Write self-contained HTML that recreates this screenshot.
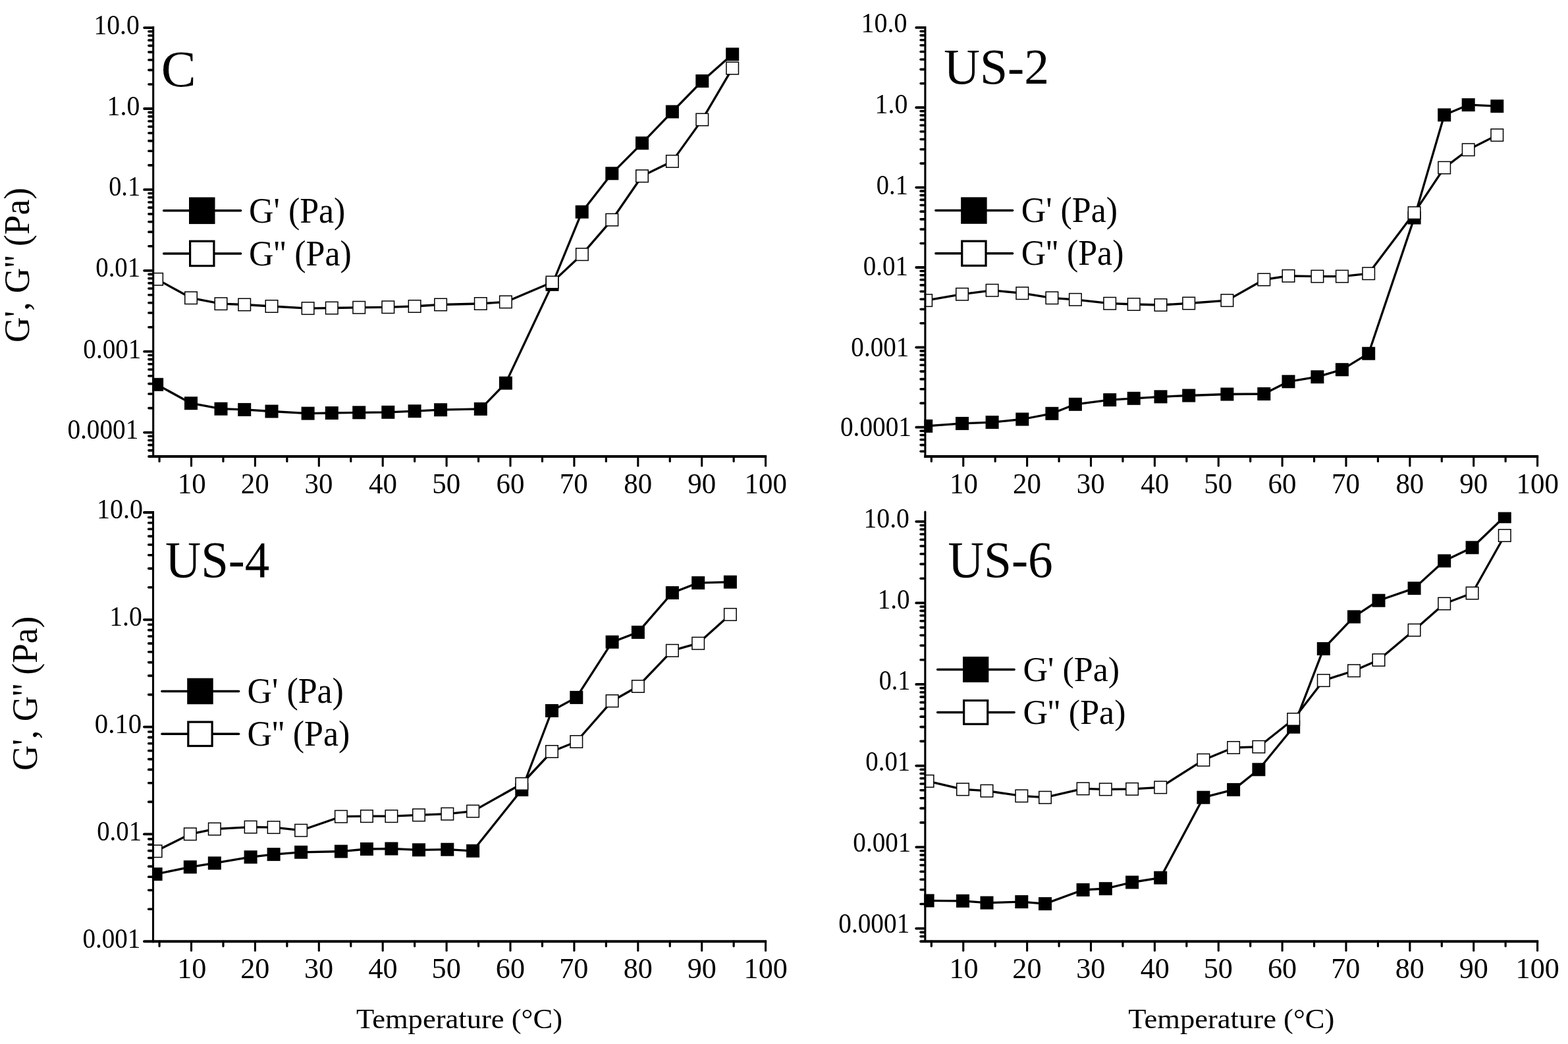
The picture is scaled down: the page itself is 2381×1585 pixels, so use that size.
<!DOCTYPE html>
<html lang="en"><head><meta charset="utf-8"><title>G', G'' vs Temperature</title>
<style>html,body{margin:0;padding:0;background:#fff}body{width:2381px;height:1585px;overflow:hidden}svg{display:block}text{font-family:"Liberation Serif",serif;fill:#000}</style>
</head><body>
<svg width="2381" height="1585" viewBox="0 0 2381 1585" font-family="Liberation Serif, serif" fill="#000" stroke="none">
<rect width="2381" height="1585" fill="#fff"/>
<clipPath id="c0"><rect x="231.15" y="0" width="989.9" height="693.1"/></clipPath>
<g clip-path="url(#c0)">
<polyline points="238.1,583.8 290,612.2 335.5,620.7 371.2,621.9 412.5,624.5 467.6,627.6 503.8,627 545.2,626.3 589.3,625.8 629.6,624.2 669.1,622.2 729.8,620.9 767.9,581.6 838.5,431.9 883.7,321.7 929.3,263.3 975,217.3 1020.9,169.6 1066.3,123 1112.2,82.4" fill="none" stroke="#000" stroke-width="3.3" stroke-linejoin="round"/>
<g fill="#000">
<rect x="228.1" y="573.8" width="20" height="20"/>
<rect x="280" y="602.2" width="20" height="20"/>
<rect x="325.5" y="610.7" width="20" height="20"/>
<rect x="361.2" y="611.9" width="20" height="20"/>
<rect x="402.5" y="614.5" width="20" height="20"/>
<rect x="457.6" y="617.6" width="20" height="20"/>
<rect x="493.8" y="617" width="20" height="20"/>
<rect x="535.2" y="616.3" width="20" height="20"/>
<rect x="579.3" y="615.8" width="20" height="20"/>
<rect x="619.6" y="614.2" width="20" height="20"/>
<rect x="659.1" y="612.2" width="20" height="20"/>
<rect x="719.8" y="610.9" width="20" height="20"/>
<rect x="757.9" y="571.6" width="20" height="20"/>
<rect x="828.5" y="421.9" width="20" height="20"/>
<rect x="873.7" y="311.7" width="20" height="20"/>
<rect x="919.3" y="253.3" width="20" height="20"/>
<rect x="965" y="207.3" width="20" height="20"/>
<rect x="1010.9" y="159.6" width="20" height="20"/>
<rect x="1056.3" y="113" width="20" height="20"/>
<rect x="1102.2" y="72.4" width="20" height="20"/>
</g>
<polyline points="238.1,423.85 290,452.3 335.5,461.2 371.2,462.5 412.5,465 467.6,468.1 503.8,467.6 545.2,466.8 589.3,466.3 629.6,465 669.1,462.5 729.8,461 767.9,458.4 838.5,428.6 883.9,386.2 929.3,333.7 975,267.3 1020.9,244.9 1066.3,181.6 1112.2,103.6" fill="none" stroke="#000" stroke-width="3.3" stroke-linejoin="round"/>
<g fill="#fff" stroke="#000" stroke-width="1.5">
<rect x="228.85" y="414.6" width="18.5" height="18.5"/>
<rect x="280.75" y="443.05" width="18.5" height="18.5"/>
<rect x="326.25" y="451.95" width="18.5" height="18.5"/>
<rect x="361.95" y="453.25" width="18.5" height="18.5"/>
<rect x="403.25" y="455.75" width="18.5" height="18.5"/>
<rect x="458.35" y="458.85" width="18.5" height="18.5"/>
<rect x="494.55" y="458.35" width="18.5" height="18.5"/>
<rect x="535.95" y="457.55" width="18.5" height="18.5"/>
<rect x="580.05" y="457.05" width="18.5" height="18.5"/>
<rect x="620.35" y="455.75" width="18.5" height="18.5"/>
<rect x="659.85" y="453.25" width="18.5" height="18.5"/>
<rect x="720.55" y="451.75" width="18.5" height="18.5"/>
<rect x="758.65" y="449.15" width="18.5" height="18.5"/>
<rect x="829.25" y="419.35" width="18.5" height="18.5"/>
<rect x="874.65" y="376.95" width="18.5" height="18.5"/>
<rect x="920.05" y="324.45" width="18.5" height="18.5"/>
<rect x="965.75" y="258.05" width="18.5" height="18.5"/>
<rect x="1011.65" y="235.65" width="18.5" height="18.5"/>
<rect x="1057.05" y="172.35" width="18.5" height="18.5"/>
<rect x="1102.95" y="94.35" width="18.5" height="18.5"/>
</g>
</g>
<g stroke="#000" fill="none">
<line x1="232.7" y1="40.1" x2="232.7" y2="695.1" stroke-width="3.1" stroke-linecap="butt"/>
<line x1="231.15" y1="693.1" x2="1164.15" y2="693.1" stroke-width="4" stroke-linecap="butt"/>
<line x1="226.1" y1="693.1" x2="230.7" y2="693.1" stroke-width="4" stroke-linecap="round"/>
<line x1="225.9" y1="683.87" x2="230.9" y2="683.87" stroke-width="3.6" stroke-linecap="round"/>
<line x1="225.9" y1="675.64" x2="230.9" y2="675.64" stroke-width="3.6" stroke-linecap="round"/>
<line x1="225.9" y1="668.51" x2="230.9" y2="668.51" stroke-width="3.6" stroke-linecap="round"/>
<line x1="225.9" y1="662.22" x2="230.9" y2="662.22" stroke-width="3.6" stroke-linecap="round"/>
<line x1="219.1" y1="656.6" x2="230.8" y2="656.6" stroke-width="3.8" stroke-linecap="round"/>
<line x1="225.9" y1="619.6" x2="230.9" y2="619.6" stroke-width="3.6" stroke-linecap="round"/>
<line x1="225.9" y1="597.96" x2="230.9" y2="597.96" stroke-width="3.6" stroke-linecap="round"/>
<line x1="225.9" y1="582.61" x2="230.9" y2="582.61" stroke-width="3.6" stroke-linecap="round"/>
<line x1="225.9" y1="570.7" x2="230.9" y2="570.7" stroke-width="3.6" stroke-linecap="round"/>
<line x1="225.9" y1="560.97" x2="230.9" y2="560.97" stroke-width="3.6" stroke-linecap="round"/>
<line x1="225.9" y1="552.74" x2="230.9" y2="552.74" stroke-width="3.6" stroke-linecap="round"/>
<line x1="225.9" y1="545.61" x2="230.9" y2="545.61" stroke-width="3.6" stroke-linecap="round"/>
<line x1="225.9" y1="539.32" x2="230.9" y2="539.32" stroke-width="3.6" stroke-linecap="round"/>
<line x1="219.1" y1="533.7" x2="230.8" y2="533.7" stroke-width="3.8" stroke-linecap="round"/>
<line x1="225.9" y1="496.7" x2="230.9" y2="496.7" stroke-width="3.6" stroke-linecap="round"/>
<line x1="225.9" y1="475.06" x2="230.9" y2="475.06" stroke-width="3.6" stroke-linecap="round"/>
<line x1="225.9" y1="459.71" x2="230.9" y2="459.71" stroke-width="3.6" stroke-linecap="round"/>
<line x1="225.9" y1="447.8" x2="230.9" y2="447.8" stroke-width="3.6" stroke-linecap="round"/>
<line x1="225.9" y1="438.07" x2="230.9" y2="438.07" stroke-width="3.6" stroke-linecap="round"/>
<line x1="225.9" y1="429.84" x2="230.9" y2="429.84" stroke-width="3.6" stroke-linecap="round"/>
<line x1="225.9" y1="422.71" x2="230.9" y2="422.71" stroke-width="3.6" stroke-linecap="round"/>
<line x1="225.9" y1="416.42" x2="230.9" y2="416.42" stroke-width="3.6" stroke-linecap="round"/>
<line x1="219.1" y1="410.8" x2="230.8" y2="410.8" stroke-width="3.8" stroke-linecap="round"/>
<line x1="225.9" y1="373.8" x2="230.9" y2="373.8" stroke-width="3.6" stroke-linecap="round"/>
<line x1="225.9" y1="352.16" x2="230.9" y2="352.16" stroke-width="3.6" stroke-linecap="round"/>
<line x1="225.9" y1="336.81" x2="230.9" y2="336.81" stroke-width="3.6" stroke-linecap="round"/>
<line x1="225.9" y1="324.9" x2="230.9" y2="324.9" stroke-width="3.6" stroke-linecap="round"/>
<line x1="225.9" y1="315.17" x2="230.9" y2="315.17" stroke-width="3.6" stroke-linecap="round"/>
<line x1="225.9" y1="306.94" x2="230.9" y2="306.94" stroke-width="3.6" stroke-linecap="round"/>
<line x1="225.9" y1="299.81" x2="230.9" y2="299.81" stroke-width="3.6" stroke-linecap="round"/>
<line x1="225.9" y1="293.52" x2="230.9" y2="293.52" stroke-width="3.6" stroke-linecap="round"/>
<line x1="219.1" y1="287.9" x2="230.8" y2="287.9" stroke-width="3.8" stroke-linecap="round"/>
<line x1="225.9" y1="250.9" x2="230.9" y2="250.9" stroke-width="3.6" stroke-linecap="round"/>
<line x1="225.9" y1="229.26" x2="230.9" y2="229.26" stroke-width="3.6" stroke-linecap="round"/>
<line x1="225.9" y1="213.91" x2="230.9" y2="213.91" stroke-width="3.6" stroke-linecap="round"/>
<line x1="225.9" y1="202" x2="230.9" y2="202" stroke-width="3.6" stroke-linecap="round"/>
<line x1="225.9" y1="192.27" x2="230.9" y2="192.27" stroke-width="3.6" stroke-linecap="round"/>
<line x1="225.9" y1="184.04" x2="230.9" y2="184.04" stroke-width="3.6" stroke-linecap="round"/>
<line x1="225.9" y1="176.91" x2="230.9" y2="176.91" stroke-width="3.6" stroke-linecap="round"/>
<line x1="225.9" y1="170.62" x2="230.9" y2="170.62" stroke-width="3.6" stroke-linecap="round"/>
<line x1="219.1" y1="165" x2="230.8" y2="165" stroke-width="3.8" stroke-linecap="round"/>
<line x1="225.9" y1="128" x2="230.9" y2="128" stroke-width="3.6" stroke-linecap="round"/>
<line x1="225.9" y1="106.36" x2="230.9" y2="106.36" stroke-width="3.6" stroke-linecap="round"/>
<line x1="225.9" y1="91.01" x2="230.9" y2="91.01" stroke-width="3.6" stroke-linecap="round"/>
<line x1="225.9" y1="79.1" x2="230.9" y2="79.1" stroke-width="3.6" stroke-linecap="round"/>
<line x1="225.9" y1="69.37" x2="230.9" y2="69.37" stroke-width="3.6" stroke-linecap="round"/>
<line x1="225.9" y1="61.14" x2="230.9" y2="61.14" stroke-width="3.6" stroke-linecap="round"/>
<line x1="225.9" y1="54.01" x2="230.9" y2="54.01" stroke-width="3.6" stroke-linecap="round"/>
<line x1="225.9" y1="47.72" x2="230.9" y2="47.72" stroke-width="3.6" stroke-linecap="round"/>
<line x1="219.1" y1="42.1" x2="230.8" y2="42.1" stroke-width="3.8" stroke-linecap="round"/>
<line x1="242.05" y1="693.1" x2="242.05" y2="700.5" stroke-width="3.2" stroke-linecap="round"/>
<line x1="290.5" y1="693.1" x2="290.5" y2="707.15" stroke-width="3.1" stroke-linecap="round"/>
<line x1="338.95" y1="693.1" x2="338.95" y2="700.5" stroke-width="3.2" stroke-linecap="round"/>
<line x1="387.4" y1="693.1" x2="387.4" y2="707.15" stroke-width="3.1" stroke-linecap="round"/>
<line x1="435.85" y1="693.1" x2="435.85" y2="700.5" stroke-width="3.2" stroke-linecap="round"/>
<line x1="484.3" y1="693.1" x2="484.3" y2="707.15" stroke-width="3.1" stroke-linecap="round"/>
<line x1="532.75" y1="693.1" x2="532.75" y2="700.5" stroke-width="3.2" stroke-linecap="round"/>
<line x1="581.2" y1="693.1" x2="581.2" y2="707.15" stroke-width="3.1" stroke-linecap="round"/>
<line x1="629.65" y1="693.1" x2="629.65" y2="700.5" stroke-width="3.2" stroke-linecap="round"/>
<line x1="678.1" y1="693.1" x2="678.1" y2="707.15" stroke-width="3.1" stroke-linecap="round"/>
<line x1="726.55" y1="693.1" x2="726.55" y2="700.5" stroke-width="3.2" stroke-linecap="round"/>
<line x1="775" y1="693.1" x2="775" y2="707.15" stroke-width="3.1" stroke-linecap="round"/>
<line x1="823.45" y1="693.1" x2="823.45" y2="700.5" stroke-width="3.2" stroke-linecap="round"/>
<line x1="871.9" y1="693.1" x2="871.9" y2="707.15" stroke-width="3.1" stroke-linecap="round"/>
<line x1="920.35" y1="693.1" x2="920.35" y2="700.5" stroke-width="3.2" stroke-linecap="round"/>
<line x1="968.8" y1="693.1" x2="968.8" y2="707.15" stroke-width="3.1" stroke-linecap="round"/>
<line x1="1017.25" y1="693.1" x2="1017.25" y2="700.5" stroke-width="3.2" stroke-linecap="round"/>
<line x1="1065.7" y1="693.1" x2="1065.7" y2="707.15" stroke-width="3.1" stroke-linecap="round"/>
<line x1="1114.15" y1="693.1" x2="1114.15" y2="700.5" stroke-width="3.2" stroke-linecap="round"/>
<line x1="1162.6" y1="693.1" x2="1162.6" y2="707.15" stroke-width="3.1" stroke-linecap="round"/>
</g>
<line stroke="#000" x1="248.6" y1="319.8" x2="365.6" y2="319.8" stroke-width="3.5" stroke-linecap="round"/>
<rect x="287" y="299.5" width="39.5" height="40.6" fill="#000"/>
<text transform="matrix(0.9570 0 0 1 378.02 337.9)" font-size="54.3">G' (Pa)</text>
<line stroke="#000" x1="248.6" y1="384.9" x2="365.6" y2="384.9" stroke-width="3.5" stroke-linecap="round"/>
<rect x="288.6" y="366.2" width="36.3" height="37.4" fill="#fff" stroke="#000" stroke-width="3.2"/>
<text transform="matrix(0.9570 0 0 1 378.02 403)" font-size="54.3">G'' (Pa)</text>
<text transform="matrix(1.0100 0 0 1 244.83 131.11)" font-size="78.51">C</text>
<text transform="matrix(0.9573 0 0 1 142.43 51.55)" font-size="41.4">10.0</text>
<text transform="matrix(0.9597 0 0 1 162.62 174.85)" font-size="41.4">1.0</text>
<text transform="matrix(0.9264 0 0 1 165.16 297.46)" font-size="41.4">0.1</text>
<text transform="matrix(0.9369 0 0 1 145.25 420.26)" font-size="41.4">0.01</text>
<text transform="matrix(0.9449 0 0 1 126.33 543.56)" font-size="41.4">0.001</text>
<text transform="matrix(0.9480 0 0 1 102.43 665.81)" font-size="41.4">0.0001</text>
<text transform="matrix(0.9850 0 0 1 269.85 749.1)" font-size="43.6">10</text>
<text transform="matrix(0.9850 0 0 1 365.77 749.1)" font-size="43.6">20</text>
<text transform="matrix(0.9850 0 0 1 462.61 749.1)" font-size="43.6">30</text>
<text transform="matrix(0.9850 0 0 1 560.1 749.1)" font-size="43.6">40</text>
<text transform="matrix(0.9850 0 0 1 656.2 749.1)" font-size="43.6">50</text>
<text transform="matrix(0.9850 0 0 1 753.42 749.1)" font-size="43.6">60</text>
<text transform="matrix(0.9850 0 0 1 849.84 749.1)" font-size="43.6">70</text>
<text transform="matrix(0.9850 0 0 1 947.33 749.1)" font-size="43.6">80</text>
<text transform="matrix(0.9850 0 0 1 1044.33 749.1)" font-size="43.6">90</text>
<text transform="matrix(0.9850 0 0 1 1130.52 749.1)" font-size="43.6">100</text>
<clipPath id="c1"><rect x="1403.35" y="0" width="989.7" height="693.1"/></clipPath>
<g clip-path="url(#c1)">
<polyline points="1406.2,646.85 1461,642.9 1506.6,641.1 1552.3,636.5 1597.4,627.8 1632.9,613.8 1685.2,607.1 1721.7,604.8 1762.5,602.3 1805.2,600.5 1863.4,598.5 1919.3,598 1956.5,579.3 2000.4,572.2 2037.9,561.2 2078.2,536.7 2147.6,330.6 2193.2,174.5 2229.7,159.2 2273.3,161.2" fill="none" stroke="#000" stroke-width="3.3" stroke-linejoin="round"/>
<g fill="#000">
<rect x="1396.2" y="636.85" width="20" height="20"/>
<rect x="1451" y="632.9" width="20" height="20"/>
<rect x="1496.6" y="631.1" width="20" height="20"/>
<rect x="1542.3" y="626.5" width="20" height="20"/>
<rect x="1587.4" y="617.8" width="20" height="20"/>
<rect x="1622.9" y="603.8" width="20" height="20"/>
<rect x="1675.2" y="597.1" width="20" height="20"/>
<rect x="1711.7" y="594.8" width="20" height="20"/>
<rect x="1752.5" y="592.3" width="20" height="20"/>
<rect x="1795.2" y="590.5" width="20" height="20"/>
<rect x="1853.4" y="588.5" width="20" height="20"/>
<rect x="1909.3" y="588" width="20" height="20"/>
<rect x="1946.5" y="569.3" width="20" height="20"/>
<rect x="1990.4" y="562.2" width="20" height="20"/>
<rect x="2027.9" y="551.2" width="20" height="20"/>
<rect x="2068.2" y="526.7" width="20" height="20"/>
<rect x="2137.6" y="320.6" width="20" height="20"/>
<rect x="2183.2" y="164.5" width="20" height="20"/>
<rect x="2219.7" y="149.2" width="20" height="20"/>
<rect x="2263.3" y="151.2" width="20" height="20"/>
</g>
<polyline points="1406.2,456.1 1461,446.7 1506.6,440.8 1552.3,445.2 1597.4,452.3 1632.9,454.8 1685.2,460.7 1721.7,462 1762.5,463 1805.2,460.5 1863.4,456.1 1919.3,424.5 1956.5,418.9 2000.4,419.6 2037.9,419.6 2078.2,415.3 2147.6,323.2 2193.2,254.6 2229.7,227.3 2273.3,205.1" fill="none" stroke="#000" stroke-width="3.3" stroke-linejoin="round"/>
<g fill="#fff" stroke="#000" stroke-width="1.5">
<rect x="1396.95" y="446.85" width="18.5" height="18.5"/>
<rect x="1451.75" y="437.45" width="18.5" height="18.5"/>
<rect x="1497.35" y="431.55" width="18.5" height="18.5"/>
<rect x="1543.05" y="435.95" width="18.5" height="18.5"/>
<rect x="1588.15" y="443.05" width="18.5" height="18.5"/>
<rect x="1623.65" y="445.55" width="18.5" height="18.5"/>
<rect x="1675.95" y="451.45" width="18.5" height="18.5"/>
<rect x="1712.45" y="452.75" width="18.5" height="18.5"/>
<rect x="1753.25" y="453.75" width="18.5" height="18.5"/>
<rect x="1795.95" y="451.25" width="18.5" height="18.5"/>
<rect x="1854.15" y="446.85" width="18.5" height="18.5"/>
<rect x="1910.05" y="415.25" width="18.5" height="18.5"/>
<rect x="1947.25" y="409.65" width="18.5" height="18.5"/>
<rect x="1991.15" y="410.35" width="18.5" height="18.5"/>
<rect x="2028.65" y="410.35" width="18.5" height="18.5"/>
<rect x="2068.95" y="406.05" width="18.5" height="18.5"/>
<rect x="2138.35" y="313.95" width="18.5" height="18.5"/>
<rect x="2183.95" y="245.35" width="18.5" height="18.5"/>
<rect x="2220.45" y="218.05" width="18.5" height="18.5"/>
<rect x="2264.05" y="195.85" width="18.5" height="18.5"/>
</g>
</g>
<g stroke="#000" fill="none">
<line x1="1404.9" y1="40" x2="1404.9" y2="695.1" stroke-width="3.1" stroke-linecap="butt"/>
<line x1="1403.35" y1="693.1" x2="2336.15" y2="693.1" stroke-width="4" stroke-linecap="butt"/>
<line x1="1398.1" y1="685.23" x2="1403.1" y2="685.23" stroke-width="3.6" stroke-linecap="round"/>
<line x1="1398.1" y1="675.62" x2="1403.1" y2="675.62" stroke-width="3.6" stroke-linecap="round"/>
<line x1="1398.1" y1="667.5" x2="1403.1" y2="667.5" stroke-width="3.6" stroke-linecap="round"/>
<line x1="1398.1" y1="660.46" x2="1403.1" y2="660.46" stroke-width="3.6" stroke-linecap="round"/>
<line x1="1398.1" y1="654.25" x2="1403.1" y2="654.25" stroke-width="3.6" stroke-linecap="round"/>
<line x1="1391.3" y1="648.7" x2="1403" y2="648.7" stroke-width="3.8" stroke-linecap="round"/>
<line x1="1398.1" y1="612.17" x2="1403.1" y2="612.17" stroke-width="3.6" stroke-linecap="round"/>
<line x1="1398.1" y1="590.8" x2="1403.1" y2="590.8" stroke-width="3.6" stroke-linecap="round"/>
<line x1="1398.1" y1="575.63" x2="1403.1" y2="575.63" stroke-width="3.6" stroke-linecap="round"/>
<line x1="1398.1" y1="563.87" x2="1403.1" y2="563.87" stroke-width="3.6" stroke-linecap="round"/>
<line x1="1398.1" y1="554.26" x2="1403.1" y2="554.26" stroke-width="3.6" stroke-linecap="round"/>
<line x1="1398.1" y1="546.14" x2="1403.1" y2="546.14" stroke-width="3.6" stroke-linecap="round"/>
<line x1="1398.1" y1="539.1" x2="1403.1" y2="539.1" stroke-width="3.6" stroke-linecap="round"/>
<line x1="1398.1" y1="532.89" x2="1403.1" y2="532.89" stroke-width="3.6" stroke-linecap="round"/>
<line x1="1391.3" y1="527.34" x2="1403" y2="527.34" stroke-width="3.8" stroke-linecap="round"/>
<line x1="1398.1" y1="490.81" x2="1403.1" y2="490.81" stroke-width="3.6" stroke-linecap="round"/>
<line x1="1398.1" y1="469.44" x2="1403.1" y2="469.44" stroke-width="3.6" stroke-linecap="round"/>
<line x1="1398.1" y1="454.27" x2="1403.1" y2="454.27" stroke-width="3.6" stroke-linecap="round"/>
<line x1="1398.1" y1="442.51" x2="1403.1" y2="442.51" stroke-width="3.6" stroke-linecap="round"/>
<line x1="1398.1" y1="432.9" x2="1403.1" y2="432.9" stroke-width="3.6" stroke-linecap="round"/>
<line x1="1398.1" y1="424.78" x2="1403.1" y2="424.78" stroke-width="3.6" stroke-linecap="round"/>
<line x1="1398.1" y1="417.74" x2="1403.1" y2="417.74" stroke-width="3.6" stroke-linecap="round"/>
<line x1="1398.1" y1="411.53" x2="1403.1" y2="411.53" stroke-width="3.6" stroke-linecap="round"/>
<line x1="1391.3" y1="405.98" x2="1403" y2="405.98" stroke-width="3.8" stroke-linecap="round"/>
<line x1="1398.1" y1="369.45" x2="1403.1" y2="369.45" stroke-width="3.6" stroke-linecap="round"/>
<line x1="1398.1" y1="348.08" x2="1403.1" y2="348.08" stroke-width="3.6" stroke-linecap="round"/>
<line x1="1398.1" y1="332.91" x2="1403.1" y2="332.91" stroke-width="3.6" stroke-linecap="round"/>
<line x1="1398.1" y1="321.15" x2="1403.1" y2="321.15" stroke-width="3.6" stroke-linecap="round"/>
<line x1="1398.1" y1="311.54" x2="1403.1" y2="311.54" stroke-width="3.6" stroke-linecap="round"/>
<line x1="1398.1" y1="303.42" x2="1403.1" y2="303.42" stroke-width="3.6" stroke-linecap="round"/>
<line x1="1398.1" y1="296.38" x2="1403.1" y2="296.38" stroke-width="3.6" stroke-linecap="round"/>
<line x1="1398.1" y1="290.17" x2="1403.1" y2="290.17" stroke-width="3.6" stroke-linecap="round"/>
<line x1="1391.3" y1="284.62" x2="1403" y2="284.62" stroke-width="3.8" stroke-linecap="round"/>
<line x1="1398.1" y1="248.09" x2="1403.1" y2="248.09" stroke-width="3.6" stroke-linecap="round"/>
<line x1="1398.1" y1="226.72" x2="1403.1" y2="226.72" stroke-width="3.6" stroke-linecap="round"/>
<line x1="1398.1" y1="211.55" x2="1403.1" y2="211.55" stroke-width="3.6" stroke-linecap="round"/>
<line x1="1398.1" y1="199.79" x2="1403.1" y2="199.79" stroke-width="3.6" stroke-linecap="round"/>
<line x1="1398.1" y1="190.18" x2="1403.1" y2="190.18" stroke-width="3.6" stroke-linecap="round"/>
<line x1="1398.1" y1="182.06" x2="1403.1" y2="182.06" stroke-width="3.6" stroke-linecap="round"/>
<line x1="1398.1" y1="175.02" x2="1403.1" y2="175.02" stroke-width="3.6" stroke-linecap="round"/>
<line x1="1398.1" y1="168.81" x2="1403.1" y2="168.81" stroke-width="3.6" stroke-linecap="round"/>
<line x1="1391.3" y1="163.26" x2="1403" y2="163.26" stroke-width="3.8" stroke-linecap="round"/>
<line x1="1398.1" y1="126.73" x2="1403.1" y2="126.73" stroke-width="3.6" stroke-linecap="round"/>
<line x1="1398.1" y1="105.36" x2="1403.1" y2="105.36" stroke-width="3.6" stroke-linecap="round"/>
<line x1="1398.1" y1="90.19" x2="1403.1" y2="90.19" stroke-width="3.6" stroke-linecap="round"/>
<line x1="1398.1" y1="78.43" x2="1403.1" y2="78.43" stroke-width="3.6" stroke-linecap="round"/>
<line x1="1398.1" y1="68.82" x2="1403.1" y2="68.82" stroke-width="3.6" stroke-linecap="round"/>
<line x1="1398.1" y1="60.7" x2="1403.1" y2="60.7" stroke-width="3.6" stroke-linecap="round"/>
<line x1="1398.1" y1="53.66" x2="1403.1" y2="53.66" stroke-width="3.6" stroke-linecap="round"/>
<line x1="1398.1" y1="47.45" x2="1403.1" y2="47.45" stroke-width="3.6" stroke-linecap="round"/>
<line x1="1391.3" y1="41.9" x2="1403" y2="41.9" stroke-width="3.8" stroke-linecap="round"/>
<line x1="1414.34" y1="693.1" x2="1414.34" y2="700.5" stroke-width="3.2" stroke-linecap="round"/>
<line x1="1462.77" y1="693.1" x2="1462.77" y2="707.15" stroke-width="3.1" stroke-linecap="round"/>
<line x1="1511.21" y1="693.1" x2="1511.21" y2="700.5" stroke-width="3.2" stroke-linecap="round"/>
<line x1="1559.64" y1="693.1" x2="1559.64" y2="707.15" stroke-width="3.1" stroke-linecap="round"/>
<line x1="1608.08" y1="693.1" x2="1608.08" y2="700.5" stroke-width="3.2" stroke-linecap="round"/>
<line x1="1656.51" y1="693.1" x2="1656.51" y2="707.15" stroke-width="3.1" stroke-linecap="round"/>
<line x1="1704.95" y1="693.1" x2="1704.95" y2="700.5" stroke-width="3.2" stroke-linecap="round"/>
<line x1="1753.38" y1="693.1" x2="1753.38" y2="707.15" stroke-width="3.1" stroke-linecap="round"/>
<line x1="1801.82" y1="693.1" x2="1801.82" y2="700.5" stroke-width="3.2" stroke-linecap="round"/>
<line x1="1850.25" y1="693.1" x2="1850.25" y2="707.15" stroke-width="3.1" stroke-linecap="round"/>
<line x1="1898.68" y1="693.1" x2="1898.68" y2="700.5" stroke-width="3.2" stroke-linecap="round"/>
<line x1="1947.12" y1="693.1" x2="1947.12" y2="707.15" stroke-width="3.1" stroke-linecap="round"/>
<line x1="1995.56" y1="693.1" x2="1995.56" y2="700.5" stroke-width="3.2" stroke-linecap="round"/>
<line x1="2043.99" y1="693.1" x2="2043.99" y2="707.15" stroke-width="3.1" stroke-linecap="round"/>
<line x1="2092.43" y1="693.1" x2="2092.43" y2="700.5" stroke-width="3.2" stroke-linecap="round"/>
<line x1="2140.86" y1="693.1" x2="2140.86" y2="707.15" stroke-width="3.1" stroke-linecap="round"/>
<line x1="2189.3" y1="693.1" x2="2189.3" y2="700.5" stroke-width="3.2" stroke-linecap="round"/>
<line x1="2237.73" y1="693.1" x2="2237.73" y2="707.15" stroke-width="3.1" stroke-linecap="round"/>
<line x1="2286.16" y1="693.1" x2="2286.16" y2="700.5" stroke-width="3.2" stroke-linecap="round"/>
<line x1="2334.6" y1="693.1" x2="2334.6" y2="707.15" stroke-width="3.1" stroke-linecap="round"/>
</g>
<line stroke="#000" x1="1420.9" y1="319.6" x2="1537.6" y2="319.6" stroke-width="3.5" stroke-linecap="round"/>
<rect x="1459.15" y="299.4" width="39.5" height="40.4" fill="#000"/>
<text transform="matrix(0.9620 0 0 1 1550.72 337)" font-size="54">G' (Pa)</text>
<line stroke="#000" x1="1420.9" y1="384.7" x2="1537.6" y2="384.7" stroke-width="3.5" stroke-linecap="round"/>
<rect x="1460.75" y="366.1" width="36.3" height="37.2" fill="#fff" stroke="#000" stroke-width="3.2"/>
<text transform="matrix(0.9620 0 0 1 1550.72 402.1)" font-size="54">G'' (Pa)</text>
<text transform="matrix(0.9966 0 0 1 1433.19 126.84)" font-size="75.99">US-2</text>
<text transform="matrix(0.9662 0 0 1 1307.6 48.75)" font-size="41.4">10.0</text>
<text transform="matrix(0.9640 0 0 1 1328.51 172.05)" font-size="41.4">1.0</text>
<text transform="matrix(0.9285 0 0 1 1330.86 294.66)" font-size="41.4">0.1</text>
<text transform="matrix(0.9428 0 0 1 1310.64 417.56)" font-size="41.4">0.01</text>
<text transform="matrix(0.9449 0 0 1 1292.33 540.86)" font-size="41.4">0.001</text>
<text transform="matrix(0.9498 0 0 1 1275.93 661.56)" font-size="41.4">0.0001</text>
<text transform="matrix(0.9850 0 0 1 1442.12 749.1)" font-size="43.6">10</text>
<text transform="matrix(0.9850 0 0 1 1538.01 749.1)" font-size="43.6">20</text>
<text transform="matrix(0.9850 0 0 1 1634.82 749.1)" font-size="43.6">30</text>
<text transform="matrix(0.9850 0 0 1 1732.28 749.1)" font-size="43.6">40</text>
<text transform="matrix(0.9850 0 0 1 1828.35 749.1)" font-size="43.6">50</text>
<text transform="matrix(0.9850 0 0 1 1925.54 749.1)" font-size="43.6">60</text>
<text transform="matrix(0.9850 0 0 1 2021.93 749.1)" font-size="43.6">70</text>
<text transform="matrix(0.9850 0 0 1 2119.39 749.1)" font-size="43.6">80</text>
<text transform="matrix(0.9850 0 0 1 2216.36 749.1)" font-size="43.6">90</text>
<text transform="matrix(0.9850 0 0 1 2302.52 749.1)" font-size="43.6">100</text>
<clipPath id="c2"><rect x="230.95" y="0" width="990.1" height="1429.2"/></clipPath>
<g clip-path="url(#c2)">
<polyline points="236.6,1327.1 288.8,1316.3 325.8,1310.4 380.6,1301.2 415.6,1297.1 457.1,1293.8 517.9,1292.6 556.9,1289 594.4,1288.5 636,1290.3 679.3,1289.7 718.1,1291.8 792.3,1199 838,1079 875.3,1058.9 929.6,974.7 968.9,959.9 1020.9,900 1060.2,884.9 1108.9,883.6" fill="none" stroke="#000" stroke-width="3.3" stroke-linejoin="round"/>
<g fill="#000">
<rect x="226.6" y="1317.1" width="20" height="20"/>
<rect x="278.8" y="1306.3" width="20" height="20"/>
<rect x="315.8" y="1300.4" width="20" height="20"/>
<rect x="370.6" y="1291.2" width="20" height="20"/>
<rect x="405.6" y="1287.1" width="20" height="20"/>
<rect x="447.1" y="1283.8" width="20" height="20"/>
<rect x="507.9" y="1282.6" width="20" height="20"/>
<rect x="546.9" y="1279" width="20" height="20"/>
<rect x="584.4" y="1278.5" width="20" height="20"/>
<rect x="626" y="1280.3" width="20" height="20"/>
<rect x="669.3" y="1279.7" width="20" height="20"/>
<rect x="708.1" y="1281.8" width="20" height="20"/>
<rect x="782.3" y="1189" width="20" height="20"/>
<rect x="828" y="1069" width="20" height="20"/>
<rect x="865.3" y="1048.9" width="20" height="20"/>
<rect x="919.6" y="964.7" width="20" height="20"/>
<rect x="958.9" y="949.9" width="20" height="20"/>
<rect x="1010.9" y="890" width="20" height="20"/>
<rect x="1050.2" y="874.9" width="20" height="20"/>
<rect x="1098.9" y="873.6" width="20" height="20"/>
</g>
<polyline points="236.6,1292.3 288.8,1266.3 325.8,1258.6 380.6,1255.6 415.6,1256.1 457.1,1260.7 517.9,1239.7 556.9,1239.2 594.4,1239.2 636,1237.4 679.3,1235.7 718.1,1231.6 792.3,1190 838,1141 875.3,1126 929.6,1064.2 968.9,1042 1020.9,987.7 1060.2,976.7 1108.9,932.9" fill="none" stroke="#000" stroke-width="3.3" stroke-linejoin="round"/>
<g fill="#fff" stroke="#000" stroke-width="1.5">
<rect x="227.35" y="1283.05" width="18.5" height="18.5"/>
<rect x="279.55" y="1257.05" width="18.5" height="18.5"/>
<rect x="316.55" y="1249.35" width="18.5" height="18.5"/>
<rect x="371.35" y="1246.35" width="18.5" height="18.5"/>
<rect x="406.35" y="1246.85" width="18.5" height="18.5"/>
<rect x="447.85" y="1251.45" width="18.5" height="18.5"/>
<rect x="508.65" y="1230.45" width="18.5" height="18.5"/>
<rect x="547.65" y="1229.95" width="18.5" height="18.5"/>
<rect x="585.15" y="1229.95" width="18.5" height="18.5"/>
<rect x="626.75" y="1228.15" width="18.5" height="18.5"/>
<rect x="670.05" y="1226.45" width="18.5" height="18.5"/>
<rect x="708.85" y="1222.35" width="18.5" height="18.5"/>
<rect x="783.05" y="1180.75" width="18.5" height="18.5"/>
<rect x="828.75" y="1131.75" width="18.5" height="18.5"/>
<rect x="866.05" y="1116.75" width="18.5" height="18.5"/>
<rect x="920.35" y="1054.95" width="18.5" height="18.5"/>
<rect x="959.65" y="1032.75" width="18.5" height="18.5"/>
<rect x="1011.65" y="978.45" width="18.5" height="18.5"/>
<rect x="1050.95" y="967.45" width="18.5" height="18.5"/>
<rect x="1099.65" y="923.65" width="18.5" height="18.5"/>
</g>
</g>
<g stroke="#000" fill="none">
<line x1="232.5" y1="776.1" x2="232.5" y2="1431.2" stroke-width="3.1" stroke-linecap="butt"/>
<line x1="230.95" y1="1429.2" x2="1164.15" y2="1429.2" stroke-width="4" stroke-linecap="butt"/>
<line x1="219" y1="1429.2" x2="230.5" y2="1429.2" stroke-width="4" stroke-linecap="round"/>
<line x1="225.7" y1="1380.19" x2="230.7" y2="1380.19" stroke-width="3.6" stroke-linecap="round"/>
<line x1="225.7" y1="1351.52" x2="230.7" y2="1351.52" stroke-width="3.6" stroke-linecap="round"/>
<line x1="225.7" y1="1331.18" x2="230.7" y2="1331.18" stroke-width="3.6" stroke-linecap="round"/>
<line x1="225.7" y1="1315.41" x2="230.7" y2="1315.41" stroke-width="3.6" stroke-linecap="round"/>
<line x1="225.7" y1="1302.52" x2="230.7" y2="1302.52" stroke-width="3.6" stroke-linecap="round"/>
<line x1="225.7" y1="1291.62" x2="230.7" y2="1291.62" stroke-width="3.6" stroke-linecap="round"/>
<line x1="225.7" y1="1282.18" x2="230.7" y2="1282.18" stroke-width="3.6" stroke-linecap="round"/>
<line x1="225.7" y1="1273.85" x2="230.7" y2="1273.85" stroke-width="3.6" stroke-linecap="round"/>
<line x1="218.9" y1="1266.4" x2="230.6" y2="1266.4" stroke-width="3.8" stroke-linecap="round"/>
<line x1="225.7" y1="1217.39" x2="230.7" y2="1217.39" stroke-width="3.6" stroke-linecap="round"/>
<line x1="225.7" y1="1188.72" x2="230.7" y2="1188.72" stroke-width="3.6" stroke-linecap="round"/>
<line x1="225.7" y1="1168.38" x2="230.7" y2="1168.38" stroke-width="3.6" stroke-linecap="round"/>
<line x1="225.7" y1="1152.61" x2="230.7" y2="1152.61" stroke-width="3.6" stroke-linecap="round"/>
<line x1="225.7" y1="1139.72" x2="230.7" y2="1139.72" stroke-width="3.6" stroke-linecap="round"/>
<line x1="225.7" y1="1128.82" x2="230.7" y2="1128.82" stroke-width="3.6" stroke-linecap="round"/>
<line x1="225.7" y1="1119.38" x2="230.7" y2="1119.38" stroke-width="3.6" stroke-linecap="round"/>
<line x1="225.7" y1="1111.05" x2="230.7" y2="1111.05" stroke-width="3.6" stroke-linecap="round"/>
<line x1="218.9" y1="1103.6" x2="230.6" y2="1103.6" stroke-width="3.8" stroke-linecap="round"/>
<line x1="225.7" y1="1054.59" x2="230.7" y2="1054.59" stroke-width="3.6" stroke-linecap="round"/>
<line x1="225.7" y1="1025.92" x2="230.7" y2="1025.92" stroke-width="3.6" stroke-linecap="round"/>
<line x1="225.7" y1="1005.58" x2="230.7" y2="1005.58" stroke-width="3.6" stroke-linecap="round"/>
<line x1="225.7" y1="989.81" x2="230.7" y2="989.81" stroke-width="3.6" stroke-linecap="round"/>
<line x1="225.7" y1="976.92" x2="230.7" y2="976.92" stroke-width="3.6" stroke-linecap="round"/>
<line x1="225.7" y1="966.02" x2="230.7" y2="966.02" stroke-width="3.6" stroke-linecap="round"/>
<line x1="225.7" y1="956.58" x2="230.7" y2="956.58" stroke-width="3.6" stroke-linecap="round"/>
<line x1="225.7" y1="948.25" x2="230.7" y2="948.25" stroke-width="3.6" stroke-linecap="round"/>
<line x1="218.9" y1="940.8" x2="230.6" y2="940.8" stroke-width="3.8" stroke-linecap="round"/>
<line x1="225.7" y1="891.79" x2="230.7" y2="891.79" stroke-width="3.6" stroke-linecap="round"/>
<line x1="225.7" y1="863.12" x2="230.7" y2="863.12" stroke-width="3.6" stroke-linecap="round"/>
<line x1="225.7" y1="842.78" x2="230.7" y2="842.78" stroke-width="3.6" stroke-linecap="round"/>
<line x1="225.7" y1="827.01" x2="230.7" y2="827.01" stroke-width="3.6" stroke-linecap="round"/>
<line x1="225.7" y1="814.12" x2="230.7" y2="814.12" stroke-width="3.6" stroke-linecap="round"/>
<line x1="225.7" y1="803.22" x2="230.7" y2="803.22" stroke-width="3.6" stroke-linecap="round"/>
<line x1="225.7" y1="793.78" x2="230.7" y2="793.78" stroke-width="3.6" stroke-linecap="round"/>
<line x1="225.7" y1="785.45" x2="230.7" y2="785.45" stroke-width="3.6" stroke-linecap="round"/>
<line x1="218.9" y1="778" x2="230.6" y2="778" stroke-width="3.8" stroke-linecap="round"/>
<line x1="242.05" y1="1429.2" x2="242.05" y2="1436.6" stroke-width="3.2" stroke-linecap="round"/>
<line x1="290.5" y1="1429.2" x2="290.5" y2="1443.25" stroke-width="3.1" stroke-linecap="round"/>
<line x1="338.95" y1="1429.2" x2="338.95" y2="1436.6" stroke-width="3.2" stroke-linecap="round"/>
<line x1="387.4" y1="1429.2" x2="387.4" y2="1443.25" stroke-width="3.1" stroke-linecap="round"/>
<line x1="435.85" y1="1429.2" x2="435.85" y2="1436.6" stroke-width="3.2" stroke-linecap="round"/>
<line x1="484.3" y1="1429.2" x2="484.3" y2="1443.25" stroke-width="3.1" stroke-linecap="round"/>
<line x1="532.75" y1="1429.2" x2="532.75" y2="1436.6" stroke-width="3.2" stroke-linecap="round"/>
<line x1="581.2" y1="1429.2" x2="581.2" y2="1443.25" stroke-width="3.1" stroke-linecap="round"/>
<line x1="629.65" y1="1429.2" x2="629.65" y2="1436.6" stroke-width="3.2" stroke-linecap="round"/>
<line x1="678.1" y1="1429.2" x2="678.1" y2="1443.25" stroke-width="3.1" stroke-linecap="round"/>
<line x1="726.55" y1="1429.2" x2="726.55" y2="1436.6" stroke-width="3.2" stroke-linecap="round"/>
<line x1="775" y1="1429.2" x2="775" y2="1443.25" stroke-width="3.1" stroke-linecap="round"/>
<line x1="823.45" y1="1429.2" x2="823.45" y2="1436.6" stroke-width="3.2" stroke-linecap="round"/>
<line x1="871.9" y1="1429.2" x2="871.9" y2="1443.25" stroke-width="3.1" stroke-linecap="round"/>
<line x1="920.35" y1="1429.2" x2="920.35" y2="1436.6" stroke-width="3.2" stroke-linecap="round"/>
<line x1="968.8" y1="1429.2" x2="968.8" y2="1443.25" stroke-width="3.1" stroke-linecap="round"/>
<line x1="1017.25" y1="1429.2" x2="1017.25" y2="1436.6" stroke-width="3.2" stroke-linecap="round"/>
<line x1="1065.7" y1="1429.2" x2="1065.7" y2="1443.25" stroke-width="3.1" stroke-linecap="round"/>
<line x1="1114.15" y1="1429.2" x2="1114.15" y2="1436.6" stroke-width="3.2" stroke-linecap="round"/>
<line x1="1162.6" y1="1429.2" x2="1162.6" y2="1443.25" stroke-width="3.1" stroke-linecap="round"/>
</g>
<line stroke="#000" x1="245.9" y1="1049.4" x2="362.6" y2="1049.4" stroke-width="3.5" stroke-linecap="round"/>
<rect x="284.2" y="1029.6" width="39.5" height="39.6" fill="#000"/>
<text transform="matrix(0.9640 0 0 1 375.52 1066.6)" font-size="53.9">G' (Pa)</text>
<line stroke="#000" x1="245.9" y1="1114.3" x2="362.6" y2="1114.3" stroke-width="3.5" stroke-linecap="round"/>
<rect x="285.8" y="1096.1" width="36.3" height="36.4" fill="#fff" stroke="#000" stroke-width="3.2"/>
<text transform="matrix(0.9640 0 0 1 375.52 1131.5)" font-size="53.9">G'' (Pa)</text>
<text transform="matrix(0.9631 0 0 1 251.1 875.72)" font-size="77.77">US-4</text>
<text transform="matrix(0.9677 0 0 1 146.99 787.46)" font-size="41.4">10.0</text>
<text transform="matrix(0.9576 0 0 1 166.23 950.36)" font-size="41.4">1.0</text>
<text transform="matrix(0.9849 0 0 1 143.87 1113.05)" font-size="41.4">0.10</text>
<text transform="matrix(0.9369 0 0 1 147.15 1276.36)" font-size="41.4">0.01</text>
<text transform="matrix(0.9449 0 0 1 125.43 1438.9)" font-size="41.4">0.001</text>
<text transform="matrix(1.0000 0 0 1 269.19 1485.1)" font-size="44.2">10</text>
<text transform="matrix(1.0000 0 0 1 365.13 1485.1)" font-size="44.2">20</text>
<text transform="matrix(1.0000 0 0 1 461.98 1485.1)" font-size="44.2">30</text>
<text transform="matrix(1.0000 0 0 1 559.49 1485.1)" font-size="44.2">40</text>
<text transform="matrix(1.0000 0 0 1 655.56 1485.1)" font-size="44.2">50</text>
<text transform="matrix(1.0000 0 0 1 752.79 1485.1)" font-size="44.2">60</text>
<text transform="matrix(1.0000 0 0 1 849.19 1485.1)" font-size="44.2">70</text>
<text transform="matrix(1.0000 0 0 1 946.7 1485.1)" font-size="44.2">80</text>
<text transform="matrix(1.0000 0 0 1 1043.71 1485.1)" font-size="44.2">90</text>
<text transform="matrix(1.0000 0 0 1 1129.55 1485.1)" font-size="44.2">100</text>
<clipPath id="c3"><rect x="1403.3" y="777.5" width="989.75" height="651.7"/></clipPath>
<g clip-path="url(#c3)">
<polyline points="1408.6,1367.4 1462,1367.8 1498.5,1370.6 1551.3,1369.1 1587,1372.1 1644.6,1351 1678.8,1349.2 1719.1,1339.5 1762.2,1332.6 1827.4,1210.7 1873.1,1198.9 1911.4,1168.3 1964.2,1103.7 2009.8,984.9 2056,936.4 2093.5,911.7 2147.6,893.1 2193.2,851.5 2235.6,831.3 2284.8,784.3" fill="none" stroke="#000" stroke-width="3.3" stroke-linejoin="round"/>
<g fill="#000">
<rect x="1398.6" y="1357.4" width="20" height="20"/>
<rect x="1452" y="1357.8" width="20" height="20"/>
<rect x="1488.5" y="1360.6" width="20" height="20"/>
<rect x="1541.3" y="1359.1" width="20" height="20"/>
<rect x="1577" y="1362.1" width="20" height="20"/>
<rect x="1634.6" y="1341" width="20" height="20"/>
<rect x="1668.8" y="1339.2" width="20" height="20"/>
<rect x="1709.1" y="1329.5" width="20" height="20"/>
<rect x="1752.2" y="1322.6" width="20" height="20"/>
<rect x="1817.4" y="1200.7" width="20" height="20"/>
<rect x="1863.1" y="1188.9" width="20" height="20"/>
<rect x="1901.4" y="1158.3" width="20" height="20"/>
<rect x="1954.2" y="1093.7" width="20" height="20"/>
<rect x="1999.8" y="974.9" width="20" height="20"/>
<rect x="2046" y="926.4" width="20" height="20"/>
<rect x="2083.5" y="901.7" width="20" height="20"/>
<rect x="2137.6" y="883.1" width="20" height="20"/>
<rect x="2183.2" y="841.5" width="20" height="20"/>
<rect x="2225.6" y="821.3" width="20" height="20"/>
<rect x="2274.8" y="774.3" width="20" height="20"/>
</g>
<polyline points="1408.6,1185.9 1462,1198.4 1498.5,1200.7 1551.3,1208.4 1587,1210.7 1644.6,1197.4 1678.8,1198.4 1719.1,1197.9 1762.2,1195.4 1827.4,1153.8 1873.1,1135 1911.4,1133.8 1964.2,1092 2009.8,1033.1 2056,1018.3 2093.5,1002 2147.6,956.6 2193.2,916.5 2235.6,900.5 2284.8,813" fill="none" stroke="#000" stroke-width="3.3" stroke-linejoin="round"/>
<g fill="#fff" stroke="#000" stroke-width="1.5">
<rect x="1399.35" y="1176.65" width="18.5" height="18.5"/>
<rect x="1452.75" y="1189.15" width="18.5" height="18.5"/>
<rect x="1489.25" y="1191.45" width="18.5" height="18.5"/>
<rect x="1542.05" y="1199.15" width="18.5" height="18.5"/>
<rect x="1577.75" y="1201.45" width="18.5" height="18.5"/>
<rect x="1635.35" y="1188.15" width="18.5" height="18.5"/>
<rect x="1669.55" y="1189.15" width="18.5" height="18.5"/>
<rect x="1709.85" y="1188.65" width="18.5" height="18.5"/>
<rect x="1752.95" y="1186.15" width="18.5" height="18.5"/>
<rect x="1818.15" y="1144.55" width="18.5" height="18.5"/>
<rect x="1863.85" y="1125.75" width="18.5" height="18.5"/>
<rect x="1902.15" y="1124.55" width="18.5" height="18.5"/>
<rect x="1954.95" y="1082.75" width="18.5" height="18.5"/>
<rect x="2000.55" y="1023.85" width="18.5" height="18.5"/>
<rect x="2046.75" y="1009.05" width="18.5" height="18.5"/>
<rect x="2084.25" y="992.75" width="18.5" height="18.5"/>
<rect x="2138.35" y="947.35" width="18.5" height="18.5"/>
<rect x="2183.95" y="907.25" width="18.5" height="18.5"/>
<rect x="2226.35" y="891.25" width="18.5" height="18.5"/>
<rect x="2275.55" y="803.75" width="18.5" height="18.5"/>
</g>
</g>
<g stroke="#000" fill="none">
<line x1="1404.85" y1="777.15" x2="1404.85" y2="1429.2" stroke-width="3.1" stroke-linecap="round"/>
<line x1="1403.3" y1="1429.2" x2="2336.15" y2="1429.2" stroke-width="4" stroke-linecap="butt"/>
<line x1="1398.25" y1="1429.2" x2="1402.85" y2="1429.2" stroke-width="4" stroke-linecap="round"/>
<line x1="1398.05" y1="1421.68" x2="1403.05" y2="1421.68" stroke-width="3.6" stroke-linecap="round"/>
<line x1="1398.05" y1="1415.35" x2="1403.05" y2="1415.35" stroke-width="3.6" stroke-linecap="round"/>
<line x1="1391.25" y1="1409.7" x2="1402.95" y2="1409.7" stroke-width="3.8" stroke-linecap="round"/>
<line x1="1398.05" y1="1372.5" x2="1403.05" y2="1372.5" stroke-width="3.6" stroke-linecap="round"/>
<line x1="1398.05" y1="1350.74" x2="1403.05" y2="1350.74" stroke-width="3.6" stroke-linecap="round"/>
<line x1="1398.05" y1="1335.3" x2="1403.05" y2="1335.3" stroke-width="3.6" stroke-linecap="round"/>
<line x1="1398.05" y1="1323.32" x2="1403.05" y2="1323.32" stroke-width="3.6" stroke-linecap="round"/>
<line x1="1398.05" y1="1313.54" x2="1403.05" y2="1313.54" stroke-width="3.6" stroke-linecap="round"/>
<line x1="1398.05" y1="1305.26" x2="1403.05" y2="1305.26" stroke-width="3.6" stroke-linecap="round"/>
<line x1="1398.05" y1="1298.1" x2="1403.05" y2="1298.1" stroke-width="3.6" stroke-linecap="round"/>
<line x1="1398.05" y1="1291.77" x2="1403.05" y2="1291.77" stroke-width="3.6" stroke-linecap="round"/>
<line x1="1391.25" y1="1286.12" x2="1402.95" y2="1286.12" stroke-width="3.8" stroke-linecap="round"/>
<line x1="1398.05" y1="1248.92" x2="1403.05" y2="1248.92" stroke-width="3.6" stroke-linecap="round"/>
<line x1="1398.05" y1="1227.16" x2="1403.05" y2="1227.16" stroke-width="3.6" stroke-linecap="round"/>
<line x1="1398.05" y1="1211.72" x2="1403.05" y2="1211.72" stroke-width="3.6" stroke-linecap="round"/>
<line x1="1398.05" y1="1199.74" x2="1403.05" y2="1199.74" stroke-width="3.6" stroke-linecap="round"/>
<line x1="1398.05" y1="1189.96" x2="1403.05" y2="1189.96" stroke-width="3.6" stroke-linecap="round"/>
<line x1="1398.05" y1="1181.68" x2="1403.05" y2="1181.68" stroke-width="3.6" stroke-linecap="round"/>
<line x1="1398.05" y1="1174.52" x2="1403.05" y2="1174.52" stroke-width="3.6" stroke-linecap="round"/>
<line x1="1398.05" y1="1168.19" x2="1403.05" y2="1168.19" stroke-width="3.6" stroke-linecap="round"/>
<line x1="1391.25" y1="1162.54" x2="1402.95" y2="1162.54" stroke-width="3.8" stroke-linecap="round"/>
<line x1="1398.05" y1="1125.34" x2="1403.05" y2="1125.34" stroke-width="3.6" stroke-linecap="round"/>
<line x1="1398.05" y1="1103.58" x2="1403.05" y2="1103.58" stroke-width="3.6" stroke-linecap="round"/>
<line x1="1398.05" y1="1088.14" x2="1403.05" y2="1088.14" stroke-width="3.6" stroke-linecap="round"/>
<line x1="1398.05" y1="1076.16" x2="1403.05" y2="1076.16" stroke-width="3.6" stroke-linecap="round"/>
<line x1="1398.05" y1="1066.38" x2="1403.05" y2="1066.38" stroke-width="3.6" stroke-linecap="round"/>
<line x1="1398.05" y1="1058.1" x2="1403.05" y2="1058.1" stroke-width="3.6" stroke-linecap="round"/>
<line x1="1398.05" y1="1050.94" x2="1403.05" y2="1050.94" stroke-width="3.6" stroke-linecap="round"/>
<line x1="1398.05" y1="1044.61" x2="1403.05" y2="1044.61" stroke-width="3.6" stroke-linecap="round"/>
<line x1="1391.25" y1="1038.96" x2="1402.95" y2="1038.96" stroke-width="3.8" stroke-linecap="round"/>
<line x1="1398.05" y1="1001.76" x2="1403.05" y2="1001.76" stroke-width="3.6" stroke-linecap="round"/>
<line x1="1398.05" y1="980" x2="1403.05" y2="980" stroke-width="3.6" stroke-linecap="round"/>
<line x1="1398.05" y1="964.56" x2="1403.05" y2="964.56" stroke-width="3.6" stroke-linecap="round"/>
<line x1="1398.05" y1="952.58" x2="1403.05" y2="952.58" stroke-width="3.6" stroke-linecap="round"/>
<line x1="1398.05" y1="942.8" x2="1403.05" y2="942.8" stroke-width="3.6" stroke-linecap="round"/>
<line x1="1398.05" y1="934.52" x2="1403.05" y2="934.52" stroke-width="3.6" stroke-linecap="round"/>
<line x1="1398.05" y1="927.36" x2="1403.05" y2="927.36" stroke-width="3.6" stroke-linecap="round"/>
<line x1="1398.05" y1="921.03" x2="1403.05" y2="921.03" stroke-width="3.6" stroke-linecap="round"/>
<line x1="1391.25" y1="915.38" x2="1402.95" y2="915.38" stroke-width="3.8" stroke-linecap="round"/>
<line x1="1398.05" y1="878.18" x2="1403.05" y2="878.18" stroke-width="3.6" stroke-linecap="round"/>
<line x1="1398.05" y1="856.42" x2="1403.05" y2="856.42" stroke-width="3.6" stroke-linecap="round"/>
<line x1="1398.05" y1="840.98" x2="1403.05" y2="840.98" stroke-width="3.6" stroke-linecap="round"/>
<line x1="1398.05" y1="829" x2="1403.05" y2="829" stroke-width="3.6" stroke-linecap="round"/>
<line x1="1398.05" y1="819.22" x2="1403.05" y2="819.22" stroke-width="3.6" stroke-linecap="round"/>
<line x1="1398.05" y1="810.94" x2="1403.05" y2="810.94" stroke-width="3.6" stroke-linecap="round"/>
<line x1="1398.05" y1="803.78" x2="1403.05" y2="803.78" stroke-width="3.6" stroke-linecap="round"/>
<line x1="1398.05" y1="797.45" x2="1403.05" y2="797.45" stroke-width="3.6" stroke-linecap="round"/>
<line x1="1391.25" y1="791.8" x2="1402.95" y2="791.8" stroke-width="3.8" stroke-linecap="round"/>
<line x1="1414.34" y1="1429.2" x2="1414.34" y2="1436.6" stroke-width="3.2" stroke-linecap="round"/>
<line x1="1462.77" y1="1429.2" x2="1462.77" y2="1443.25" stroke-width="3.1" stroke-linecap="round"/>
<line x1="1511.21" y1="1429.2" x2="1511.21" y2="1436.6" stroke-width="3.2" stroke-linecap="round"/>
<line x1="1559.64" y1="1429.2" x2="1559.64" y2="1443.25" stroke-width="3.1" stroke-linecap="round"/>
<line x1="1608.08" y1="1429.2" x2="1608.08" y2="1436.6" stroke-width="3.2" stroke-linecap="round"/>
<line x1="1656.51" y1="1429.2" x2="1656.51" y2="1443.25" stroke-width="3.1" stroke-linecap="round"/>
<line x1="1704.95" y1="1429.2" x2="1704.95" y2="1436.6" stroke-width="3.2" stroke-linecap="round"/>
<line x1="1753.38" y1="1429.2" x2="1753.38" y2="1443.25" stroke-width="3.1" stroke-linecap="round"/>
<line x1="1801.82" y1="1429.2" x2="1801.82" y2="1436.6" stroke-width="3.2" stroke-linecap="round"/>
<line x1="1850.25" y1="1429.2" x2="1850.25" y2="1443.25" stroke-width="3.1" stroke-linecap="round"/>
<line x1="1898.68" y1="1429.2" x2="1898.68" y2="1436.6" stroke-width="3.2" stroke-linecap="round"/>
<line x1="1947.12" y1="1429.2" x2="1947.12" y2="1443.25" stroke-width="3.1" stroke-linecap="round"/>
<line x1="1995.56" y1="1429.2" x2="1995.56" y2="1436.6" stroke-width="3.2" stroke-linecap="round"/>
<line x1="2043.99" y1="1429.2" x2="2043.99" y2="1443.25" stroke-width="3.1" stroke-linecap="round"/>
<line x1="2092.43" y1="1429.2" x2="2092.43" y2="1436.6" stroke-width="3.2" stroke-linecap="round"/>
<line x1="2140.86" y1="1429.2" x2="2140.86" y2="1443.25" stroke-width="3.1" stroke-linecap="round"/>
<line x1="2189.3" y1="1429.2" x2="2189.3" y2="1436.6" stroke-width="3.2" stroke-linecap="round"/>
<line x1="2237.73" y1="1429.2" x2="2237.73" y2="1443.25" stroke-width="3.1" stroke-linecap="round"/>
<line x1="2286.16" y1="1429.2" x2="2286.16" y2="1436.6" stroke-width="3.2" stroke-linecap="round"/>
<line x1="2334.6" y1="1429.2" x2="2334.6" y2="1443.25" stroke-width="3.1" stroke-linecap="round"/>
</g>
<line stroke="#000" x1="1423.7" y1="1016.4" x2="1540.1" y2="1016.4" stroke-width="3.5" stroke-linecap="round"/>
<rect x="1462.05" y="996.9" width="39.3" height="39" fill="#000"/>
<text transform="matrix(0.9910 0 0 1 1553.52 1033.6)" font-size="52.5">G' (Pa)</text>
<line stroke="#000" x1="1423.7" y1="1081.4" x2="1540.1" y2="1081.4" stroke-width="3.5" stroke-linecap="round"/>
<rect x="1463.65" y="1063.5" width="36.1" height="35.8" fill="#fff" stroke="#000" stroke-width="3.2"/>
<text transform="matrix(0.9910 0 0 1 1553.52 1098.6)" font-size="52.5">G'' (Pa)</text>
<text transform="matrix(0.9707 0 0 1 1439.49 875.72)" font-size="77.77">US-6</text>
<text transform="matrix(0.9602 0 0 1 1311.42 801.16)" font-size="41.4">10.0</text>
<text transform="matrix(0.9426 0 0 1 1332.69 924.25)" font-size="41.4">1.0</text>
<text transform="matrix(0.9201 0 0 1 1334.67 1046.65)" font-size="41.4">0.1</text>
<text transform="matrix(0.9399 0 0 1 1314.24 1169.55)" font-size="41.4">0.01</text>
<text transform="matrix(0.9449 0 0 1 1295.33 1292.95)" font-size="41.4">0.001</text>
<text transform="matrix(0.9498 0 0 1 1273.23 1415.86)" font-size="41.4">0.0001</text>
<text transform="matrix(1.0000 0 0 1 1441.47 1485.1)" font-size="44.2">10</text>
<text transform="matrix(1.0000 0 0 1 1537.37 1485.1)" font-size="44.2">20</text>
<text transform="matrix(1.0000 0 0 1 1634.19 1485.1)" font-size="44.2">30</text>
<text transform="matrix(1.0000 0 0 1 1731.67 1485.1)" font-size="44.2">40</text>
<text transform="matrix(1.0000 0 0 1 1827.71 1485.1)" font-size="44.2">50</text>
<text transform="matrix(1.0000 0 0 1 1924.91 1485.1)" font-size="44.2">60</text>
<text transform="matrix(1.0000 0 0 1 2021.28 1485.1)" font-size="44.2">70</text>
<text transform="matrix(1.0000 0 0 1 2118.76 1485.1)" font-size="44.2">80</text>
<text transform="matrix(1.0000 0 0 1 2215.74 1485.1)" font-size="44.2">90</text>
<text transform="matrix(1.0000 0 0 1 2301.54 1485.1)" font-size="44.2">100</text>
<text transform="matrix(0 -0.9791 1 0 44 520.04)" font-size="54.55">G', G'' (Pa)</text>
<text transform="matrix(0 -0.9737 1 0 55.87 1170.03)" font-size="54.69">G', G'' (Pa)</text>
<text transform="matrix(1.0736 0 0 1 541.02 1561.3)" font-size="41.53">Temperature (°C)</text>
<text transform="matrix(1.0736 0 0 1 1713.32 1561.3)" font-size="41.53">Temperature (°C)</text>
</svg>
</body></html>
